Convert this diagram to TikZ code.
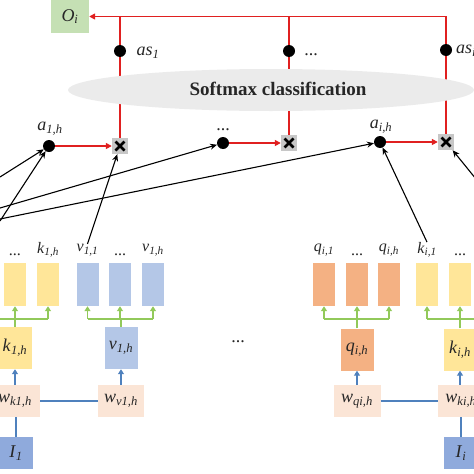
\documentclass[tikz,border=0pt]{standalone}
\usepackage{fontspec}
\setmainfont{Liberation Serif}
\usetikzlibrary{shapes.geometric, arrows.meta, backgrounds}
\definecolor{yel}{HTML}{FFE699}
\definecolor{blu}{HTML}{B4C7E7}
\definecolor{org}{HTML}{F4B183}
\definecolor{pch}{HTML}{FBE5D6}
\definecolor{grn}{HTML}{C5E0B4}
\definecolor{ibl}{HTML}{8FAADC}
\definecolor{garr}{HTML}{92C95A}
\definecolor{bln}{HTML}{4F81BD}
\definecolor{rln}{HTML}{E02020}
\definecolor{txt}{HTML}{262626}
\newcommand{\lb}[2]{\textit{#1}\textsubscript{\textit{#2}}}
\begin{document}
\begin{tikzpicture}[x=1pt,y=-1pt,
  lab/.style={inner sep=0, text=txt, font=\fontsize{16}{18}\selectfont},
  labb/.style={inner sep=0, text=txt, font=\fontsize{18}{20}\selectfont},
  srect/.style={minimum width=22pt, minimum height=43pt, inner sep=0},
  brect/.style={minimum width=33pt, minimum height=42pt, inner sep=0, text=txt, font=\fontsize{18}{20}\selectfont},
  wrect/.style={fill=pch, minimum height=32pt, inner sep=0, text=txt, font=\fontsize{18}{20}\selectfont},
  irect/.style={fill=ibl, minimum width=34pt, minimum height=32pt, inner sep=0, text=txt, font=\fontsize{18}{20}\selectfont},
  dot/.style={circle, fill=black, minimum size=12pt, inner sep=0},
  xbox/.style={fill=black!22, minimum size=16pt, inner sep=0,
    path picture={
      \draw[line width=2.8pt, black] ([shift={(-4.5pt,-4.5pt)}]path picture bounding box.center) -- ([shift={(4.5pt,4.5pt)}]path picture bounding box.center);
      \draw[line width=2.8pt, black] ([shift={(-4.5pt,4.5pt)}]path picture bounding box.center) -- ([shift={(4.5pt,-4.5pt)}]path picture bounding box.center);
    }},
  redl/.style={draw=rln, line width=1.5pt},
  reda/.style={draw=rln, line width=1.5pt, -{Triangle[length=6pt,width=6pt]}},
  blk/.style={draw=black, line width=1.1pt, -{Stealth[length=7pt,width=6pt]}},
  gline/.style={draw=garr, line width=1.6pt},
  garrow/.style={draw=garr, line width=1.6pt, -{Triangle[length=5pt,width=6pt]}},
  bline/.style={draw=bln, line width=1.6pt},
  barrow/.style={draw=bln, line width=1.6pt, -{Triangle[length=5pt,width=6pt]}}
]
\useasboundingbox (0,0) rectangle (474,474);
\clip (0,0) rectangle (474,474);

% top
\node[fill=grn, minimum width=38pt, minimum height=33pt, inner sep=0, text=txt, font=\fontsize{18}{20}\selectfont] (O) at (70,16.5) {\lb{O}{i}};

% softmax ellipse
\node[ellipse, fill=black!8, minimum width=406pt, minimum height=42pt, inner sep=0] (soft) at (271,90) {};
\node[inner sep=0, text=txt, font=\fontsize{19}{21}\selectfont\bfseries] (softtxt) at (278,89) {Softmax classification};

% multiply boxes
\node[xbox] (x1) at (120,146) {};
\node[xbox] (x2) at (289,143) {};
\node[xbox] (x3) at (446,142) {};

% as dots
\node[dot] (s1) at (120,51) {};
\node[dot] (s2) at (289,51) {};
\node[dot] (s3) at (446,50) {};
\node[labb] (as1) at (148,53) {\lb{as}{1}};
\node[labb] (asd) at (311,55) {...};
\node[labb, anchor=west] (asi) at (456,51) {\lb{as}{i}};

% attention dots
\node[dot] (d1) at (49,146) {};
\node[dot] (d2) at (223,143) {};
\node[dot] (d3) at (380,142) {};
\node[labb] (la1) at (50,129) {\lb{a}{1,h}};
\node[labb] (lad) at (223,130) {...};
\node[labb] (lai) at (381,127) {\lb{a}{i,h}};

% small rects row
\node[srect, fill=yel] (k1d) at (15,284.5) {};
\node[srect, fill=yel] (k1h) at (48,284.5) {};
\node[srect, fill=blu] (v11) at (87.5,284.5) {};
\node[srect, fill=blu] (v1d) at (120,284.5) {};
\node[srect, fill=blu] (v1h) at (153,284.5) {};
\node[srect, fill=org] (qi1) at (324,284.5) {};
\node[srect, fill=org] (qid) at (357,284.5) {};
\node[srect, fill=org] (qih) at (389,284.5) {};
\node[srect, fill=yel] (ki1) at (427,284.5) {};
\node[srect, fill=yel] (kid) at (460,284.5) {};

\node[lab] (lk1d) at (15,255) {...};
\node[lab] (lk1h) at (48,250) {\lb{k}{1,h}};
\node[lab] (lv11) at (87.5,250) {\lb{v}{1,1}};
\node[lab] (lv1d) at (120,255) {...};
\node[lab] (lv1h) at (153,250) {\lb{v}{1,h}};
\node[lab] (lqi1) at (324,250) {\lb{q}{i,1}};
\node[lab] (lqid) at (357,255) {...};
\node[lab] (lqih) at (389,250) {\lb{q}{i,h}};
\node[lab] (lki1) at (427,250) {\lb{k}{i,1}};
\node[lab] (lkid) at (460,255) {...};

% big rects
\node[brect, fill=yel] (Kb1) at (15,348) {\lb{k}{1,h}};
\node[brect, fill=blu] (Vb) at (121,348) {\lb{v}{1,h}};
\node[brect, fill=org] (Qb) at (357,349.5) {\lb{q}{i,h}};
\node[brect, fill=yel] (Kb2) at (460,349.5) {\lb{k}{i,h}};

\node[labb] (mid) at (238,342) {...};

% w boxes
\node[wrect, minimum width=50pt] (Wk1) at (15,401) {\lb{w}{k1,h}};
\node[wrect, minimum width=46pt] (Wv1) at (121,401) {\lb{w}{v1,h}};
\node[wrect, minimum width=47pt] (Wq) at (357,401) {\lb{w}{qi,h}};
\node[wrect, minimum width=46pt] (Wk2) at (461,401) {\lb{w}{ki,h}};

% inputs
\node[irect] (I1) at (16,453) {\lb{I}{1}};
\node[irect] (Ii) at (461,453) {\lb{I}{i}};

% free ends
\coordinate (L1) at (0,177);
\coordinate (L2) at (0,221);
\coordinate (L3) at (0,208);
\coordinate (L4) at (0,219);
\coordinate (R1) at (476,179);
\coordinate (gy) at (0,319);
\coordinate (gl) at (0,319);
\coordinate (gr) at (480,319);

\begin{pgfonlayer}{background}
% red lines
\draw[reda] (x3.north) |- (O.east);
\draw[redl] (x1.north) -- (x1.north |- O.east);
\draw[redl] (x2.north) -- (x2.north |- O.east);
\draw[reda] (d1) -- (x1);
\draw[reda] (d2) -- (x2);
\draw[reda] (d3) -- (x3);
\end{pgfonlayer}

% black arrows
\draw[blk] (L1) -- (d1);
\draw[blk] (L2) -- (d1);
\draw[blk] (L3) -- (d2);
\draw[blk] (L4) -- (d3);
\draw[blk] (lv11.north) -- (x1);
\draw[blk] (lki1.north) -- (d3);
\draw[blk] (R1) -- (x3);

% green connectors
\draw[gline] (Kb1.north) -- (Kb1.north |- gy);
\draw[gline] (gl) -- (k1h.south |- gy);
\draw[garrow] (k1d.south |- gy) -- (k1d.south);
\draw[garrow] (k1h.south |- gy) -- (k1h.south);

\draw[gline] (Vb.north) -- (Vb.north |- gy);
\draw[gline] (v11.south |- gy) -- (v1h.south |- gy);
\draw[garrow] (v11.south |- gy) -- (v11.south);
\draw[garrow] (v1d.south |- gy) -- (v1d.south);
\draw[garrow] (v1h.south |- gy) -- (v1h.south);

\draw[gline] (Qb.north) -- (Qb.north |- gy);
\draw[gline] (qi1.south |- gy) -- (qih.south |- gy);
\draw[garrow] (qi1.south |- gy) -- (qi1.south);
\draw[garrow] (qid.south |- gy) -- (qid.south);
\draw[garrow] (qih.south |- gy) -- (qih.south);

\draw[gline] (Kb2.north) -- (Kb2.north |- gy);
\draw[gline] (ki1.south |- gy) -- (gr);
\draw[garrow] (ki1.south |- gy) -- (ki1.south);
\draw[garrow] (kid.south |- gy) -- (kid.south);

% blue connectors
\draw[bline] (Wk1.east) -- (Wv1.west);
\draw[bline] (Wq.east) -- (Wk2.west);
\draw[barrow] (Kb1.south |- Wk1.north) -- (Kb1.south);
\draw[barrow] (Wv1.north) -- (Vb.south);
\draw[barrow] (Wq.north) -- (Qb.south);
\draw[barrow] (Kb2.south |- Wk2.north) -- (Kb2.south);
\draw[bline] (I1.north) -- (I1.north |- Wk1.south);
\draw[bline] (Ii.north) -- (Ii.north |- Wk2.south);
\end{tikzpicture}
\end{document}
